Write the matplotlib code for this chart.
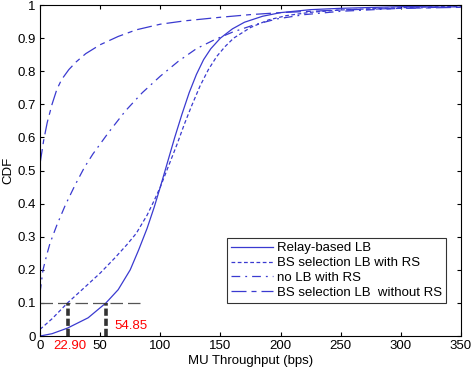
import matplotlib
matplotlib.use("Agg")
import matplotlib.pyplot as plt

plt.rcParams["font.family"] = ["Liberation Sans", "DejaVu Sans"]

# Relay-based LB (solid)
relay_x = [0, 10, 22.9, 40, 54.85, 65, 75, 82, 89, 95, 100, 106, 112, 118, 124,
           130, 136, 142, 150, 160, 170, 185, 200, 225, 250, 300, 350]
relay_y = [0, 0.007, 0.024, 0.055, 0.1, 0.14, 0.2, 0.26, 0.325, 0.39, 0.45, 0.525,
           0.6, 0.67, 0.735, 0.79, 0.835, 0.868, 0.9, 0.928, 0.948, 0.966, 0.977,
           0.986, 0.99, 0.995, 0.998]

# BS selection LB with RS (short dash)
bs_rs_x = [0, 10, 22.9, 35, 50, 62, 72, 80, 89, 95, 100, 107, 114, 120, 126, 133,
           140, 147, 154, 161, 175, 190, 205, 225, 250, 300, 350]
bs_rs_y = [0.02, 0.052, 0.1, 0.14, 0.19, 0.235, 0.275, 0.31, 0.365, 0.41, 0.45,
           0.515, 0.58, 0.64, 0.695, 0.755, 0.805, 0.845, 0.875, 0.9, 0.932, 0.955,
           0.968, 0.978, 0.985, 0.992, 0.996]

# no LB with RS (dash-dot)
nolb_x = [0, 2.5, 5.6, 8.3, 14, 21, 29, 37, 44, 57, 71, 85, 100, 115, 130, 145,
          160, 178, 197, 220, 250, 300, 350]
nolb_y = [0.13, 0.2, 0.245, 0.28, 0.335, 0.395, 0.455, 0.51, 0.55, 0.615, 0.68,
          0.735, 0.785, 0.83, 0.868, 0.895, 0.918, 0.94, 0.958, 0.971, 0.981, 0.99,
          0.995]

# BS selection LB without RS (long dash)
bs_nors_x = [0, 3, 6, 10, 14, 18, 24, 30, 38, 50, 65, 80, 100, 120, 150, 175, 200,
             250, 300, 350]
bs_nors_y = [0.52, 0.59, 0.645, 0.7, 0.745, 0.775, 0.805, 0.828, 0.853, 0.88,
             0.905, 0.925, 0.942, 0.952, 0.963, 0.971, 0.977, 0.985, 0.99, 0.993]

# 10% cutoffs
cut_level = 0.1
cut_x = [22.90, 54.85]

blue = "#3a3ad0"
fs = 9.5

fig = plt.figure(figsize=(4.74, 3.71), dpi=100)
ax = fig.add_axes([0.0844, 0.0943, 0.8882, 0.8922])

ax.plot(relay_x, relay_y, color=blue, lw=0.9, ls="-", label="Relay-based LB")
ax.plot(bs_rs_x, bs_rs_y, color=blue, lw=0.9, ls=(0, (3, 2)),
        label="BS selection LB with RS")
ax.plot(nolb_x, nolb_y, color=blue, lw=0.9, ls=(0, (7, 4, 1.5, 4)),
        label="no LB with RS")
ax.plot(bs_nors_x, bs_nors_y, color=blue, lw=0.9, ls=(0, (12, 4, 4, 4)),
        label="BS selection LB  without RS")

# cutoff markers
ax.plot([0, 86], [cut_level, cut_level], color="#555555", lw=0.9, ls=(0, (10, 4)))
for cx in cut_x:
    ax.plot([cx, cx], [0, cut_level], color="#333333", lw=2.6, ls=(0, (2, 0.8)))
ax.text(cut_x[0] + 2, -0.012, "%.2f" % cut_x[0], color="red", fontsize=fs,
        ha="center", va="top")
ax.text(cut_x[1] + 7, 0.03, "%.2f" % cut_x[1], color="red", fontsize=fs,
        ha="left", va="center")

ax.set_xlim(0, 350)
ax.set_ylim(0, 1)
ax.set_xticks(range(0, 351, 50))
ax.set_yticks([i / 10 for i in range(11)])
ax.set_yticklabels(["0"] + ["0.%d" % i for i in range(1, 10)] + ["1"])
ax.tick_params(direction="in", top=True, right=True, labelsize=fs, length=3,
               pad=3)
ax.set_xlabel("MU Throughput (bps)", fontsize=fs, labelpad=2)
ax.set_ylabel("CDF", fontsize=fs, labelpad=2)

leg = ax.legend(loc="lower right", bbox_to_anchor=(0.965, 0.1), fontsize=fs,
                frameon=True, fancybox=False, handlelength=3.2,
                borderpad=0.3, labelspacing=0.2, handletextpad=0.3,
                borderaxespad=0)
leg.get_frame().set_edgecolor("black")
leg.get_frame().set_linewidth(0.8)

fig.savefig("out.png", dpi=100)
